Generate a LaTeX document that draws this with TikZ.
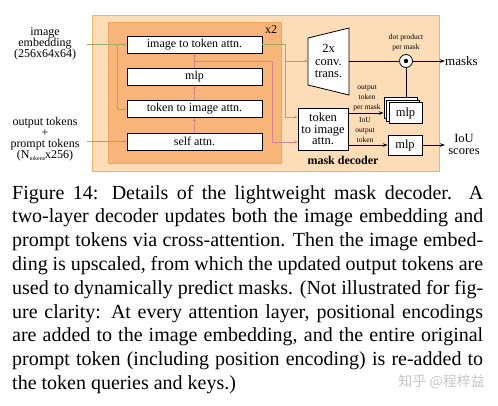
\documentclass[tikz,border=0pt]{standalone}
\usepackage{fontspec}
\setmainfont{Liberation Serif}
\newfontfamily\cjkfont{Noto Sans CJK SC}
\usetikzlibrary{arrows.meta}
\definecolor{outerfill}{HTML}{FDDDB8}
\definecolor{outerdraw}{HTML}{F3B06A}
\definecolor{innerfill}{HTML}{F7B579}
\definecolor{innerdraw}{HTML}{EFA563}
\definecolor{pinkln}{HTML}{D4868F}
\definecolor{greenln}{HTML}{A3AD68}
\begin{document}
\begin{tikzpicture}[x=1pt,y=-1pt,
  font=\fontsize{12}{12}\selectfont,
  blk/.style={draw=black, fill=white, line width=0.7pt, minimum height=17pt, minimum width=135pt, inner sep=0pt},
  box/.style={draw=black, fill=white, line width=0.7pt, inner sep=0pt},
  parr/.style={draw=pinkln, line width=0.7pt, -{Stealth[length=3.5pt,width=3pt]}},
  pln/.style={draw=pinkln, line width=0.7pt},
  garr/.style={draw=greenln, line width=0.7pt, -{Stealth[length=3.5pt,width=3pt]}},
  gln/.style={draw=greenln, line width=0.7pt},
  barr/.style={draw=black, line width=0.8pt, -{Stealth[length=5pt,width=3.5pt]}},
  bln/.style={draw=black, line width=0.8pt},
  small/.style={font=\fontsize{7.5}{10}\selectfont, align=center, inner sep=0pt},
  lbl/.style={align=center, inner sep=0pt}]
\useasboundingbox (0,0) rectangle (498,405);
\fill[white] (0,0) rectangle (498,405);

% containers
\node[fill=outerfill, draw=outerdraw, line width=1.2pt, minimum width=347pt, minimum height=156pt, anchor=north west, inner sep=0pt] (dec) at (92,15) {};
\node[fill=innerfill, draw=innerdraw, line width=0.8pt, minimum width=173pt, minimum height=141pt, anchor=north west, inner sep=0pt] (loop) at (108,22) {};
\node[inner sep=0pt] (x2) at (271,30) {x2};
\node[font=\fontsize{12}{12}\selectfont\bfseries, inner sep=0pt] (mdlabel) at (343,160) {mask decoder};

% two-layer blocks
\node[blk] (i2t) at (194.5,44.5) {image to token attn.};
\node[blk] (mlp) at (194.5,76.5) {mlp};
\node[blk] (t2i) at (194.5,109) {token to image attn.};
\node[blk] (self) at (194.5,141.5) {self attn.};

\draw[parr] (self.north) -- (t2i.south);
\draw[parr] (t2i.north) -- (mlp.south);
\draw[parr] (mlp.north) -- (i2t.south);

% input labels
\node[lbl, font=\fontsize{12}{11}\selectfont] (emb) at (45,44) {image\\embedding\\(256x64x64)};
\node[lbl, font=\fontsize{12}{11}\selectfont] (tok) at (45,139) {output tokens\\+\\prompt tokens\\(N\raisebox{-2pt}{\fontsize{6}{6}\selectfont tokens}x256)};

\coordinate (ge) at (87,44.5);
\coordinate (gb) at (117,44.5);
\coordinate (pe) at (87,141.5);
\draw[garr] (ge) -- (i2t.west);
\draw[garr] (gb) |- (t2i.west);
\draw[parr] (pe) -- (self.west);

% final stage
\draw[fill=white, line width=0.8pt] (308,38) -- (349,28) -- (349,95) -- (308,85) -- cycle;
\node[lbl, font=\fontsize{12.5}{12.5}\selectfont] (conv) at (328.5,61) {2x\\conv.\\trans.};
\coordinate (convin) at (308,61);
\coordinate (convout) at (349,61);

\node[box, minimum width=50pt, minimum height=42pt, align=center, font=\fontsize{12.5}{11.5}\selectfont] (ft2i) at (323,129) {token\\to image\\attn.};

\coordinate (pb) at (194.5,61);
\coordinate (pc) at (272,142);
\draw[pln] (pb) -| (pc);
\draw[parr] (pc) -- (ft2i.west |- pc);

\coordinate (gc) at (285,44.5);
\coordinate (gd) at (285,117);
\coordinate (gm) at (285,61);
\draw[gln] (i2t.east) -- (gc) -- (gd);
\draw[garr] (gd) -- (ft2i.west |- gd);
\draw[garr] (gm) -- (convin);

% dot product
\node[circle, draw=black, fill=white, line width=0.8pt, minimum size=13pt, inner sep=0pt] (dot) at (406,61) {};
\fill (dot.center) circle (2.2pt);
\node[small] (dotlbl) at (406,42.5) {dot product\\per mask};
\draw[bln] (convout) -- (dot.west);
\node[anchor=west, inner sep=0pt, font=\fontsize{13}{13}\selectfont] (masks) at (445,61) {masks};
\draw[barr] (dot.east) -- (masks.west);

% mlp stack
\node[box, minimum width=33pt, minimum height=21pt] (mlpb2) at (400.5,108) {};
\node[box, minimum width=33pt, minimum height=21pt] (mlpb1) at (403,110.5) {};
\node[box, minimum width=33pt, minimum height=21pt, font=\fontsize{12.5}{12.5}\selectfont] (mlpf) at (405.5,113) {mlp};
\draw[bln] (dot.south) -- (dot.south |- mlpb2.north);
\coordinate (o1) at (348,113);
\draw[barr] (o1) -- (mlpb2.west |- o1);

\node[box, minimum width=34pt, minimum height=20pt, font=\fontsize{12.5}{12.5}\selectfont] (mlp2) at (405,145) {mlp};
\coordinate (o2) at (348,145);
\draw[barr] (o2) -- (mlp2.west);
\node[lbl, font=\fontsize{12.5}{12.5}\selectfont] (iou) at (464,144.5) {IoU\\scores};
\coordinate (iouin) at (445,145);
\draw[barr] (mlp2.east) -- (iouin);

\node[small] (otlbl) at (367,98) {output\\token\\per mask};
\node[small] (ioulbl) at (365,130.5) {IoU\\output\\token};

% caption
\node[anchor=base west, inner sep=0pt, text width=471pt, align=justify, font=\fontsize{20}{23.8}\selectfont] (cap) at (12,199) {\hyphenpenalty=10000\exhyphenpenalty=10000
Figure 14: Details of the lightweight mask decoder. A\linebreak
two-layer decoder updates both the image embedding and\linebreak
prompt tokens via cross-attention. Then the image embed-\linebreak
ding is upscaled, from which the updated output tokens are\linebreak
used to dynamically predict masks. (Not illustrated for fig-\linebreak
ure clarity: At every attention layer, positional encodings\linebreak
are added to the image embedding, and the entire original\linebreak
prompt token (including position encoding) is re-added to\linebreak
the token queries and keys.)};

\node[anchor=east, inner sep=0pt, text=black!22, font=\cjkfont\fontsize{14}{14}\selectfont] (wm) at (485,382) {知乎 @程梓益};
\end{tikzpicture}
\end{document}
